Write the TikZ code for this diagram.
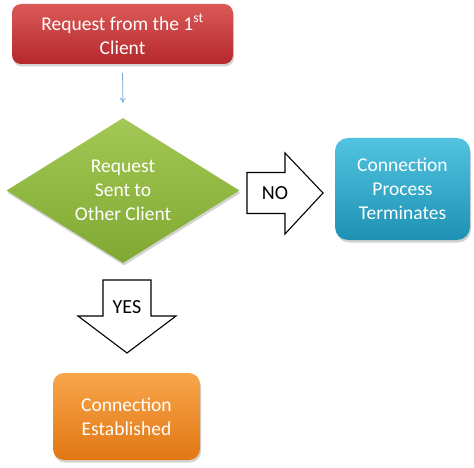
\documentclass[tikz,border=0pt]{standalone}
\usepackage{fontspec}
\setmainfont{Carlito}
\usetikzlibrary{shapes.geometric,shadows,arrows.meta}

\definecolor{redtop}{HTML}{DA5A58}
\definecolor{redbot}{HTML}{B5282B}
\definecolor{greentop}{HTML}{A3C855}
\definecolor{greenbot}{HTML}{80A832}
\definecolor{bluetop}{HTML}{52C3E0}
\definecolor{bluebot}{HTML}{1E92B4}
\definecolor{orangetop}{HTML}{F9A64C}
\definecolor{orangebot}{HTML}{E07713}
\definecolor{linkblue}{HTML}{7AA6D6}

\tikzset{
  box/.style={rounded corners=9pt, inner sep=0pt, align=center,
    text=white, font=\fontsize{19.5}{24}\selectfont,
    drop shadow={opacity=0.35, shadow xshift=1pt, shadow yshift=-2.5pt}},
  decision/.style={diamond, inner sep=0pt, aspect=1.6, align=center,
    text=white, font=\fontsize{19.5}{24}\selectfont,
    drop shadow={opacity=0.35, shadow xshift=1pt, shadow yshift=-2.5pt}},
  blockarrow/.style={draw=black, line width=1.1pt, fill=white, line join=miter},
  arrowlabel/.style={inner sep=0pt, font=\fontsize{20}{24}\selectfont, text=black},
  thinlink/.style={draw=linkblue, line width=0.8pt, -{To[length=5pt,width=6pt]}}
}

\begin{document}
\begin{tikzpicture}[x=1pt, y=-1pt]
  \useasboundingbox (0,0) rectangle (474,468);

  % process boxes
  \node[box, top color=redtop, bottom color=redbot,
        minimum width=221pt, minimum height=60pt] (start) at (122.5,34)
        {Request from the 1\textsuperscript{st}\\Client};

  \node[decision, top color=greentop, bottom color=greenbot,
        minimum width=233pt, minimum height=145pt] (check) at (123,190.5)
        {Request\\Sent to\\Other Client};

  \node[box, rounded corners=13pt, top color=bluetop, bottom color=bluebot,
        minimum width=135pt, minimum height=102pt] (fail) at (402.5,189)
        {Connection\\Process\\Terminates};

  \node[box, rounded corners=11pt, top color=orangetop, bottom color=orangebot,
        minimum width=147pt, minimum height=87pt] (done) at (126.5,416.5)
        {Connection\\Established};

  % thin link from the request to the decision
  \draw[thinlink, shorten <=9pt, shorten >=15pt] (start.south) -- (check.north);

  % "NO" block arrow towards the terminating box
  \draw[blockarrow] (247,172.5) -- (285,172.5) -- (285,153) -- (323,193)
        -- (285,234) -- (285,213.5) -- (247,213.5) -- cycle;
  \node[arrowlabel] (nolabel) at (275,193) {NO};

  % "YES" block arrow towards the established box
  \draw[blockarrow] (103,280) -- (151,280) -- (151,316) -- (176,316)
        -- (127,353) -- (78,316) -- (103,316) -- cycle;
  \node[arrowlabel] (yeslabel) at (127,307) {YES};
\end{tikzpicture}
\end{document}
